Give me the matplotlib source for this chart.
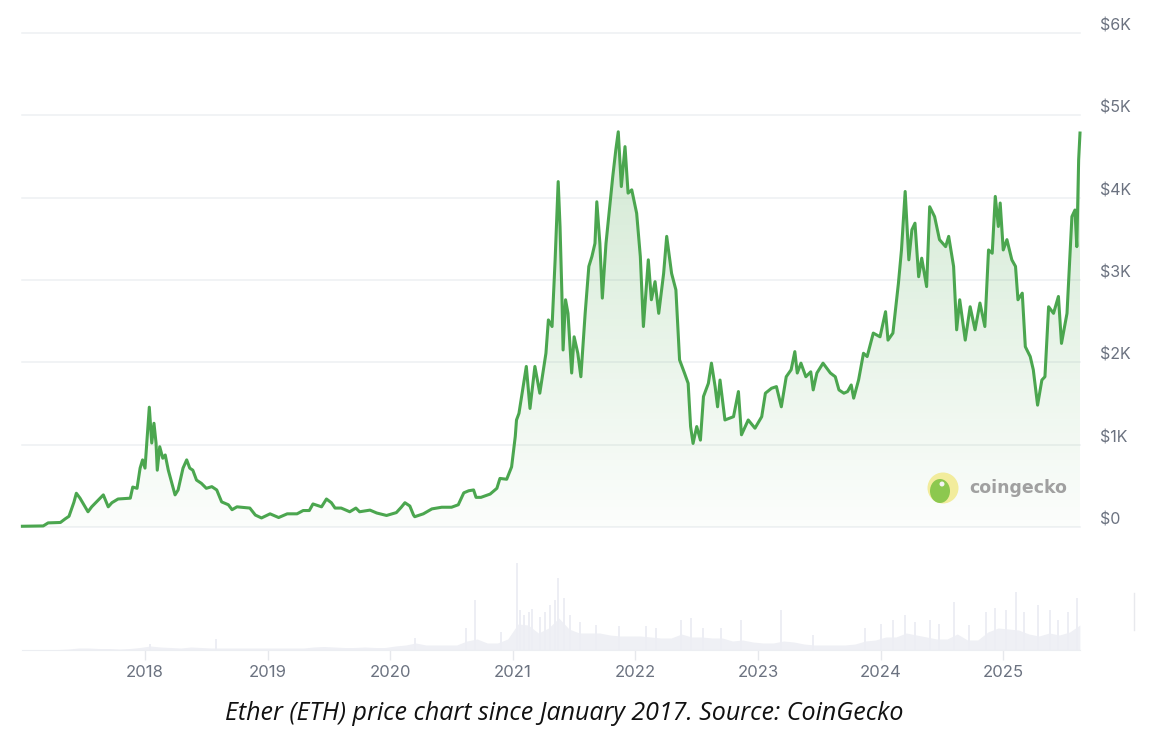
import numpy as np
import matplotlib
matplotlib.use("Agg")
import matplotlib.pyplot as plt
from matplotlib.patches import Circle, Ellipse
from matplotlib.lines import Line2D
from matplotlib.transforms import offset_copy

# price (decimal year, USD)
t_price = [2017.00, 2017.10, 2017.17, 2017.21, 2017.31, 2017.35, 2017.38, 2017.42, 2017.44, 2017.47,
           2017.535, 2017.565, 2017.62, 2017.66, 2017.70, 2017.73, 2017.78, 2017.88, 2017.90, 2017.935,
           2017.96, 2017.98, 2018.00, 2018.02, 2018.035, 2018.055, 2018.073, 2018.09, 2018.10, 2018.12,
           2018.145, 2018.165, 2018.19, 2018.245, 2018.27, 2018.31, 2018.34, 2018.365, 2018.39, 2018.42,
           2018.46, 2018.50, 2018.545, 2018.585, 2018.625, 2018.68, 2018.71, 2018.75, 2018.855, 2018.90,
           2018.95, 2019.02, 2019.09, 2019.16, 2019.24, 2019.29, 2019.34, 2019.37, 2019.44, 2019.48,
           2019.52, 2019.55, 2019.60, 2019.67, 2019.72, 2019.75, 2019.835, 2019.89, 2019.97, 2020.05,
           2020.09, 2020.12, 2020.16, 2020.19, 2020.20, 2020.27, 2020.34, 2020.42, 2020.50, 2020.555,
           2020.60, 2020.64, 2020.68, 2020.70, 2020.74, 2020.815, 2020.87, 2020.895, 2020.95, 2020.99,
           2021.02, 2021.03, 2021.05, 2021.08, 2021.11, 2021.14, 2021.18, 2021.22, 2021.27, 2021.29,
           2021.32, 2021.345, 2021.37, 2021.385, 2021.40, 2021.41, 2021.43, 2021.45, 2021.48, 2021.50,
           2021.53, 2021.555, 2021.59, 2021.62, 2021.645, 2021.67, 2021.685, 2021.71, 2021.73, 2021.76,
           2021.79, 2021.815, 2021.84, 2021.86, 2021.885, 2021.915, 2021.94, 2021.97, 2022.01, 2022.04,
           2022.065, 2022.105, 2022.13, 2022.16, 2022.19, 2022.23, 2022.255, 2022.295, 2022.33, 2022.36,
           2022.40, 2022.43, 2022.45, 2022.47, 2022.50, 2022.53, 2022.555, 2022.595, 2022.62, 2022.65,
           2022.67, 2022.69, 2022.73, 2022.80, 2022.84, 2022.865, 2022.92, 2022.975, 2023.03, 2023.06,
           2023.11, 2023.15, 2023.19, 2023.23, 2023.27, 2023.30, 2023.32, 2023.35, 2023.39, 2023.43,
           2023.45, 2023.48, 2023.53, 2023.59, 2023.63, 2023.66, 2023.70, 2023.73, 2023.76, 2023.78,
           2023.82, 2023.86, 2023.89, 2023.94, 2023.995, 2024.04, 2024.06, 2024.10, 2024.145, 2024.17,
           2024.20, 2024.23, 2024.255, 2024.28, 2024.31, 2024.335, 2024.375, 2024.40, 2024.44, 2024.48,
           2024.53, 2024.555, 2024.595, 2024.62, 2024.645, 2024.69, 2024.73, 2024.77, 2024.81, 2024.85,
           2024.88, 2024.91, 2024.935, 2024.96, 2024.975, 2025.00, 2025.03, 2025.07, 2025.10, 2025.12,
           2025.155, 2025.18, 2025.22, 2025.245, 2025.28, 2025.315, 2025.34, 2025.37, 2025.41, 2025.45,
           2025.475, 2025.52, 2025.56, 2025.585, 2025.60, 2025.615, 2025.626]
price = [9, 11, 13, 50, 55, 100, 130, 300, 410, 350,
         185, 245, 330, 390, 245, 295, 340, 350, 485, 470,
         715, 815, 715, 1140, 1455, 1020, 1260, 1020, 690, 975,
         835, 875, 690, 390, 450, 715, 815, 715, 690, 570,
         530, 470, 490, 450, 305, 270, 210, 245, 230, 145,
         110, 160, 115, 160, 160, 200, 200, 280, 245, 340,
         295, 230, 230, 185, 230, 185, 205, 170, 140, 175,
         240, 295, 255, 145, 125, 160, 220, 240, 240, 270,
         415, 440, 450, 360, 360, 400, 470, 590, 580, 730,
         1100, 1300, 1380, 1665, 1950, 1440, 1950, 1625, 2110, 2515,
         2435, 3245, 4195, 3650, 2840, 2150, 2760, 2595, 1870, 2310,
         2110, 1825, 2595, 3165, 3285, 3445, 3950, 3445, 2780, 3445,
         3890, 4255, 4580, 4800, 4135, 4620, 4055, 4095, 3810, 3285,
         2435, 3245, 2760, 2980, 2595, 3080, 3530, 3080, 2880, 2030,
         1870, 1745, 1220, 1015, 1220, 1055, 1585, 1745, 1990, 1705,
         1460, 1785, 1300, 1340, 1645, 1120, 1300, 1200, 1340, 1625,
         1685, 1705, 1460, 1825, 1910, 2130, 1870, 1990, 1825, 1885,
         1665, 1870, 1990, 1870, 1825, 1665, 1625, 1645, 1725, 1565,
         1785, 2110, 2070, 2355, 2310, 2615, 2270, 2355, 2960, 3365,
         4075, 3245, 3610, 3690, 3040, 3265, 2920, 3890, 3770, 3490,
         3405, 3530, 3165, 2395, 2760, 2270, 2675, 2395, 2720, 2435,
         3365, 3325, 4015, 3650, 3935, 3365, 3490, 3245, 3165, 2760,
         2840, 2190, 2070, 1910, 1480, 1785, 1825, 2675, 2595, 2800,
         2230, 2595, 3770, 3850, 3405, 4460, 4785]

# volume (relative units), monthly level Jan 2017 .. Aug 2025
vol_month = [0.3, 0.3, 0.5, 0.5, 1, 2, 2, 1.5, 1.5, 1, 1.5, 2.5,
             4, 3, 2.5, 2, 3, 2.5, 2, 2, 2, 2, 2, 2,
             2, 2, 2, 2, 3, 3.5, 3, 2.5, 2.5, 3, 2.5, 2.5,
             4, 5, 7, 5, 5, 5, 5, 9, 11, 7, 7, 11,
             26, 25, 17, 22, 32, 21, 17, 17, 17, 15, 14, 14,
             14, 13, 12, 12, 16, 13, 13, 12, 12, 9, 10, 8,
             7, 7, 9, 8, 6, 5, 5, 5, 5, 6, 9, 10,
             13, 13, 17, 15, 13, 11, 11, 16, 10, 10, 18, 22,
             21, 20, 16, 14, 17, 15, 18, 25]
spike_t = [2018.04, 2018.58, 2020.20, 2020.62, 2020.69, 2020.90, 2021.03, 2021.06, 2021.09, 2021.13,
           2021.16, 2021.22, 2021.26, 2021.30, 2021.34, 2021.37, 2021.42, 2021.47, 2021.55, 2021.68,
           2021.87, 2022.09, 2022.17, 2022.37, 2022.45, 2022.55, 2022.70, 2022.86, 2023.19, 2023.45,
           2023.87, 2024.00, 2024.10, 2024.20, 2024.28, 2024.40, 2024.48, 2024.60, 2024.72, 2024.86,
           2024.93, 2025.02, 2025.10, 2025.17, 2025.28, 2025.38, 2025.45, 2025.53, 2025.60]
spike_v = [6, 11, 12, 22, 50, 18, 87, 40, 35, 38,
           41, 33, 38, 45, 50, 72, 52, 35, 28, 25,
           24, 24, 22, 30, 32, 22, 22, 30, 40, 15,
           22, 26, 30, 35, 28, 30, 26, 48, 25, 38,
           42, 40, 58, 38, 45, 40, 30, 38, 52]

years = [2018, 2019, 2020, 2021, 2022, 2023, 2024, 2025]
price_ticks = [0, 1000, 2000, 3000, 4000, 5000, 6000]
price_labels = ["$0", "$1K", "$2K", "$3K", "$4K", "$5K", "$6K"]

W, H = 1170, 756
x0, x1 = 22.4, 1080
t0, t1 = 2017.0, 2025.626
green = "#4ba64f"
label_grey = "#6b7280"

fig = plt.figure(figsize=(W / 100, H / 100), dpi=100)
fig.patch.set_facecolor("white")

ax = fig.add_axes([x0 / W, (H - 527) / H, (x1 - x0) / W, (527 - 33) / H])
ax.set_xlim(t0, t1)
ax.set_ylim(0, 6000)
for v in price_ticks:
    ax.axhline(v, color="#eef0f3", lw=1.1, zorder=0, clip_on=False)
trans = offset_copy(ax.get_yaxis_transform(), fig=fig, x=20, y=7, units="dots")
for v, s in zip(price_ticks, price_labels):
    ax.text(1.0, v, s, transform=trans, ha="left", va="center",
            fontsize=11.5, color=label_grey, family="Inter")
ax.set_xticks([])
ax.set_yticks([])
for sp in ax.spines.values():
    sp.set_visible(False)

# gradient fill under the line
poly = ax.fill_between(t_price, price, 0, color="none", lw=0)
grad = np.zeros((256, 2, 4))
grad[..., 0] = 0.30
grad[..., 1] = 0.66
grad[..., 2] = 0.31
grad[..., 3] = np.linspace(0.26, 0.02, 256)[:, None]
im = ax.imshow(grad, extent=[t0, t1, 0, 5000], aspect="auto", origin="upper", zorder=1)
im.set_clip_path(poly.get_paths()[0], transform=ax.transData)
ax.plot(t_price, price, color=green, lw=2.2, zorder=3, solid_joinstyle="round", clip_on=False)
ax.set_xlim(t0, t1)
ax.set_ylim(0, 6000)

# watermark
fig.add_artist(Circle((9.43, (H - 488) / 100), 0.155, transform=fig.dpi_scale_trans,
                      color="#f2ec9c", lw=0, zorder=5))
fig.add_artist(Ellipse((9.40, (H - 491) / 100), 0.2, 0.24, transform=fig.dpi_scale_trans,
                       color="#8cc84f", lw=0, zorder=6))
fig.add_artist(Circle((9.42, (H - 484) / 100), 0.025, transform=fig.dpi_scale_trans,
                      color="#f4f4f4", lw=0, zorder=7))
fig.text(969 / W, 1 - 488 / H, "coingecko", ha="left", va="center", fontsize=12.5,
         fontweight="bold", color="#a0a0a0", family="DejaVu Sans")

# volume panel
vax = fig.add_axes([x0 / W, (H - 650) / H, (x1 - x0) / W, 90 / H])
vax.set_xlim(t0, t1)
vax.set_ylim(0, 90)
vt = [t0 + (i + 0.5) / 12 for i in range(len(vol_month))]
vax.fill_between(vt, vol_month, 0, color="#eff0f5", lw=0)
vax.vlines(spike_t, 0, spike_v, color="#edeef4", lw=1.4)
for k, sp in vax.spines.items():
    sp.set_visible(k == "bottom")
vax.spines["bottom"].set_color("#eceef2")
vax.set_yticks([])
vax.set_xticks(years)
vax.set_xticklabels([str(y) for y in years], family="Inter")
vax.tick_params(axis="x", length=7, width=1, color="#e6e8ec", pad=4,
                labelsize=12, labelcolor=label_grey)

fig.add_artist(Line2D([1134 / W] * 2, [1 - 593 / H, 1 - 630 / H], color="#e8e9ed", lw=1))

fig.text(564.5 / W, 1 - 714 / H, "Ether (ETH) price chart since January 2017. Source: CoinGecko",
         ha="center", va="center", fontsize=18, style="italic", family="Open Sans", color="#111111")

fig.savefig("out.png", dpi=100)
